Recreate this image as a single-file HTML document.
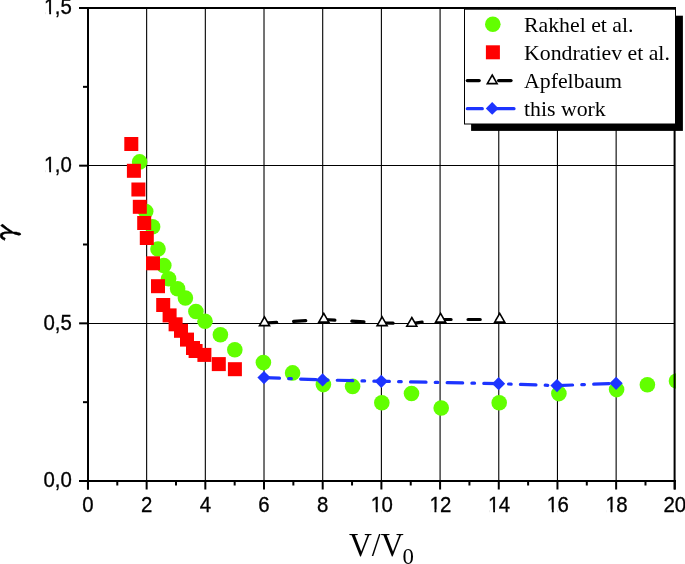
<!DOCTYPE html>
<html><head><meta charset="utf-8"><style>
html,body{margin:0;padding:0;background:#fff;}
svg{display:block;}
.tl{font-family:"Liberation Sans",Arial,sans-serif;font-size:20.4px;fill:#000;stroke:#000;stroke-width:0.3px;}
.lg{font-family:"Liberation Serif","Times New Roman",serif;font-size:21.8px;fill:#000;}
.ax{font-family:"Liberation Serif","Times New Roman",serif;fill:#000;}
</style></head><body>
<svg width="685" height="564" viewBox="0 0 685 564">
<defs><clipPath id="pc"><rect x="88" y="8" width="588" height="473"/></clipPath></defs>
<rect width="685" height="564" fill="#fff"/>
<g stroke="#000" stroke-width="1.1"><line x1="146.64" y1="8" x2="146.64" y2="481" /><line x1="205.33" y1="8" x2="205.33" y2="481" /><line x1="264.01" y1="8" x2="264.01" y2="481" /><line x1="322.70" y1="8" x2="322.70" y2="481" /><line x1="381.39" y1="8" x2="381.39" y2="481" /><line x1="440.08" y1="8" x2="440.08" y2="481" /><line x1="498.77" y1="8" x2="498.77" y2="481" /><line x1="557.45" y1="8" x2="557.45" y2="481" /><line x1="616.14" y1="8" x2="616.14" y2="481" /><line x1="88" y1="323.45" x2="675" y2="323.45" /><line x1="88" y1="165.55" x2="675" y2="165.55" /></g>
<g clip-path="url(#pc)">
<circle cx="139.6" cy="161.9" r="7.8" fill="#62FF00"/><circle cx="145.7" cy="211.5" r="7.8" fill="#62FF00"/><circle cx="152.6" cy="226.8" r="7.8" fill="#62FF00"/><circle cx="158" cy="249" r="7.8" fill="#62FF00"/><circle cx="163.8" cy="265.5" r="7.8" fill="#62FF00"/><circle cx="168.6" cy="278.8" r="7.8" fill="#62FF00"/><circle cx="177.6" cy="288.8" r="7.8" fill="#62FF00"/><circle cx="185.4" cy="298" r="7.8" fill="#62FF00"/><circle cx="195.9" cy="311.5" r="7.8" fill="#62FF00"/><circle cx="205" cy="321.2" r="7.8" fill="#62FF00"/><circle cx="220.4" cy="334.7" r="7.8" fill="#62FF00"/><circle cx="234.8" cy="349.7" r="7.8" fill="#62FF00"/><circle cx="263.4" cy="362.6" r="7.8" fill="#62FF00"/><circle cx="292.6" cy="372.9" r="7.8" fill="#62FF00"/><circle cx="323.4" cy="384.6" r="7.8" fill="#62FF00"/><circle cx="352.6" cy="386.4" r="7.8" fill="#62FF00"/><circle cx="381.8" cy="402.8" r="7.8" fill="#62FF00"/><circle cx="411.5" cy="393.5" r="7.8" fill="#62FF00"/><circle cx="441.2" cy="408" r="7.8" fill="#62FF00"/><circle cx="499.2" cy="402.8" r="7.8" fill="#62FF00"/><circle cx="558.9" cy="393.6" r="7.8" fill="#62FF00"/><circle cx="616.6" cy="389.6" r="7.8" fill="#62FF00"/><circle cx="647.4" cy="384.8" r="7.8" fill="#62FF00"/><circle cx="676.5" cy="381" r="7.8" fill="#62FF00"/>
<rect x="124.3" y="137.0" width="14" height="14" fill="#FF0000"/><rect x="126.9" y="163.8" width="14" height="14" fill="#FF0000"/><rect x="131.4" y="182.5" width="14" height="14" fill="#FF0000"/><rect x="132.8" y="199.8" width="14" height="14" fill="#FF0000"/><rect x="137.2" y="216.0" width="14" height="14" fill="#FF0000"/><rect x="139.8" y="231.0" width="14" height="14" fill="#FF0000"/><rect x="146.0" y="256.3" width="14" height="14" fill="#FF0000"/><rect x="151.0" y="279.2" width="14" height="14" fill="#FF0000"/><rect x="156.2" y="298.0" width="14" height="14" fill="#FF0000"/><rect x="162.6" y="308.4" width="14" height="14" fill="#FF0000"/><rect x="168.6" y="317.3" width="14" height="14" fill="#FF0000"/><rect x="174.0" y="323.8" width="14" height="14" fill="#FF0000"/><rect x="180.0" y="332.6" width="14" height="14" fill="#FF0000"/><rect x="186.0" y="341.0" width="14" height="14" fill="#FF0000"/><rect x="188.6" y="344.0" width="14" height="14" fill="#FF0000"/><rect x="197.4" y="347.9" width="14" height="14" fill="#FF0000"/><rect x="211.8" y="357.1" width="14" height="14" fill="#FF0000"/><rect x="227.9" y="362.2" width="14" height="14" fill="#FF0000"/>
<polyline points="264.5,323.0 323.8,319.5 382.1,323.0 411.8,323.6 440.6,319.5 499.7,319.5" fill="none" stroke="#000" stroke-width="3.2" stroke-dasharray="12.2 16.95" stroke-linecap="round"/>
<polygon points="264.50,316.90 269.50,325.60 259.50,325.60" fill="#fff" stroke="#000" stroke-width="1.6" stroke-linejoin="miter"/><polygon points="323.80,313.40 328.80,322.10 318.80,322.10" fill="#fff" stroke="#000" stroke-width="1.6" stroke-linejoin="miter"/><polygon points="382.10,316.90 387.10,325.60 377.10,325.60" fill="#fff" stroke="#000" stroke-width="1.6" stroke-linejoin="miter"/><polygon points="411.80,317.50 416.80,326.20 406.80,326.20" fill="#fff" stroke="#000" stroke-width="1.6" stroke-linejoin="miter"/><polygon points="440.60,313.40 445.60,322.10 435.60,322.10" fill="#fff" stroke="#000" stroke-width="1.6" stroke-linejoin="miter"/><polygon points="499.70,313.40 504.70,322.10 494.70,322.10" fill="#fff" stroke="#000" stroke-width="1.6" stroke-linejoin="miter"/>
<polyline points="264,377.6 322.6,379.9 381.3,381.3 498.6,383.7 557,385.6 616.1,383.3" fill="none" stroke="#1D34FF" stroke-width="3.2" stroke-dasharray="15.5 9.25 2.6 9.3" stroke-linecap="round"/>
<polygon points="264,371.0 270.6,377.6 264,384.20000000000005 257.4,377.6" fill="#1D34FF"/><polygon points="322.6,373.29999999999995 329.20000000000005,379.9 322.6,386.5 316.0,379.9" fill="#1D34FF"/><polygon points="381.3,374.7 387.90000000000003,381.3 381.3,387.90000000000003 374.7,381.3" fill="#1D34FF"/><polygon points="498.6,377.09999999999997 505.20000000000005,383.7 498.6,390.3 492.0,383.7" fill="#1D34FF"/><polygon points="557,379.0 563.6,385.6 557,392.20000000000005 550.4,385.6" fill="#1D34FF"/><polygon points="616.1,376.7 622.7,383.3 616.1,389.90000000000003 609.5,383.3" fill="#1D34FF"/>
</g>
<g stroke="#000" stroke-width="2" fill="none"><line x1="88" y1="7" x2="88" y2="489.5"/><line x1="79.1" y1="481" x2="676" y2="481"/><line x1="79.1" y1="8" x2="676" y2="8"/><line x1="674.6" y1="7" x2="674.6" y2="489.5"/><line x1="87.95" y1="481" x2="87.95" y2="489.5"/><line x1="117.29" y1="481" x2="117.29" y2="485.5"/><line x1="146.64" y1="481" x2="146.64" y2="489.5"/><line x1="175.98" y1="481" x2="175.98" y2="485.5"/><line x1="205.33" y1="481" x2="205.33" y2="489.5"/><line x1="234.67" y1="481" x2="234.67" y2="485.5"/><line x1="264.01" y1="481" x2="264.01" y2="489.5"/><line x1="293.36" y1="481" x2="293.36" y2="485.5"/><line x1="322.70" y1="481" x2="322.70" y2="489.5"/><line x1="352.05" y1="481" x2="352.05" y2="485.5"/><line x1="381.39" y1="481" x2="381.39" y2="489.5"/><line x1="410.73" y1="481" x2="410.73" y2="485.5"/><line x1="440.08" y1="481" x2="440.08" y2="489.5"/><line x1="469.42" y1="481" x2="469.42" y2="485.5"/><line x1="498.77" y1="481" x2="498.77" y2="489.5"/><line x1="528.11" y1="481" x2="528.11" y2="485.5"/><line x1="557.45" y1="481" x2="557.45" y2="489.5"/><line x1="586.80" y1="481" x2="586.80" y2="485.5"/><line x1="616.14" y1="481" x2="616.14" y2="489.5"/><line x1="645.49" y1="481" x2="645.49" y2="485.5"/><line x1="674.83" y1="481" x2="674.83" y2="489.5"/><line x1="79.1" y1="481.00" x2="88" y2="481.00"/><line x1="83" y1="402.17" x2="88" y2="402.17"/><line x1="79.1" y1="323.34" x2="88" y2="323.34"/><line x1="83" y1="244.50" x2="88" y2="244.50"/><line x1="79.1" y1="165.67" x2="88" y2="165.67"/><line x1="83" y1="86.84" x2="88" y2="86.84"/><line x1="79.1" y1="8.00" x2="88" y2="8.00"/></g>
<text class="tl" transform="translate(87.95,512.20) scale(1,1.065)" ><tspan x="-5.67">0</tspan></text><text class="tl" transform="translate(146.64,512.20) scale(1,1.065)" ><tspan x="-5.67">2</tspan></text><text class="tl" transform="translate(205.33,512.20) scale(1,1.065)" ><tspan x="-5.67">4</tspan></text><text class="tl" transform="translate(264.01,512.20) scale(1,1.065)" ><tspan x="-5.67">6</tspan></text><text class="tl" transform="translate(322.70,512.20) scale(1,1.065)" ><tspan x="-5.67">8</tspan></text><text class="tl" transform="translate(381.39,512.20) scale(1,1.065)"  clip-path="url(#c0)"><tspan x="-10.67">1</tspan><tspan x="0.00">0</tspan></text><text class="tl" transform="translate(440.08,512.20) scale(1,1.065)"  clip-path="url(#c1)"><tspan x="-10.67">1</tspan><tspan x="0.00">2</tspan></text><text class="tl" transform="translate(498.77,512.20) scale(1,1.065)"  clip-path="url(#c2)"><tspan x="-10.67">1</tspan><tspan x="0.00">4</tspan></text><text class="tl" transform="translate(557.45,512.20) scale(1,1.065)"  clip-path="url(#c3)"><tspan x="-10.67">1</tspan><tspan x="0.00">6</tspan></text><text class="tl" transform="translate(616.14,512.20) scale(1,1.065)"  clip-path="url(#c4)"><tspan x="-10.67">1</tspan><tspan x="0.00">8</tspan></text><text class="tl" transform="translate(674.83,512.20) scale(1,1.065)" ><tspan x="-11.35">2</tspan><tspan x="0.00">0</tspan></text><text class="tl" transform="translate(71.80,487.30) scale(1,1.065)" ><tspan x="-28.36">0</tspan><tspan x="-17.01">,</tspan><tspan x="-11.35">0</tspan></text><text class="tl" transform="translate(71.80,329.64) scale(1,1.065)" ><tspan x="-28.36">0</tspan><tspan x="-17.01">,</tspan><tspan x="-11.35">5</tspan></text><text class="tl" transform="translate(71.80,171.97) scale(1,1.065)"  clip-path="url(#c5)"><tspan x="-27.68">1</tspan><tspan x="-17.01">,</tspan><tspan x="-11.35">0</tspan></text><text class="tl" transform="translate(71.80,14.30) scale(1,1.065)"  clip-path="url(#c6)"><tspan x="-27.68">1</tspan><tspan x="-17.01">,</tspan><tspan x="-11.35">5</tspan></text><defs><clipPath id="c0"><path d="M-16.35,-25H16.35V8H-16.35ZM-9.67,-2.42H-5.54V3H-9.67ZM-3.74,-2.42H0.24V3H-3.74Z" clip-rule="evenodd"/></clipPath><clipPath id="c1"><path d="M-16.35,-25H16.35V8H-16.35ZM-9.67,-2.42H-5.54V3H-9.67ZM-3.74,-2.42H0.24V3H-3.74Z" clip-rule="evenodd"/></clipPath><clipPath id="c2"><path d="M-16.35,-25H16.35V8H-16.35ZM-9.67,-2.42H-5.54V3H-9.67ZM-3.74,-2.42H0.24V3H-3.74Z" clip-rule="evenodd"/></clipPath><clipPath id="c3"><path d="M-16.35,-25H16.35V8H-16.35ZM-9.67,-2.42H-5.54V3H-9.67ZM-3.74,-2.42H0.24V3H-3.74Z" clip-rule="evenodd"/></clipPath><clipPath id="c4"><path d="M-16.35,-25H16.35V8H-16.35ZM-9.67,-2.42H-5.54V3H-9.67ZM-3.74,-2.42H0.24V3H-3.74Z" clip-rule="evenodd"/></clipPath><clipPath id="c5"><path d="M-33.36,-25H5.00V8H-33.36ZM-26.69,-2.42H-22.55V3H-26.69ZM-20.75,-2.42H-16.77V3H-20.75Z" clip-rule="evenodd"/></clipPath><clipPath id="c6"><path d="M-33.36,-25H5.00V8H-33.36ZM-26.69,-2.42H-22.55V3H-26.69ZM-20.75,-2.42H-16.77V3H-20.75Z" clip-rule="evenodd"/></clipPath></defs>
<text class="ax" x="349" y="556" font-size="33" textLength="54.5" lengthAdjust="spacingAndGlyphs">V/V</text><text class="ax" x="402.6" y="563.6" font-size="22.8">0</text><text font-family="IPAGothic,DejaVu Serif,serif" font-size="30" stroke="#000" stroke-width="0.35" transform="translate(18.2,232.3) rotate(-90) scale(0.92,1.12)" text-anchor="middle">γ</text>
<rect x="471.1" y="15.7" width="211.8" height="115.2" fill="#000"/><rect x="464.5" y="9.2" width="211" height="114.8" fill="#fff" stroke="#000" stroke-width="1"/><line x1="464" y1="8" x2="676" y2="8" stroke="#000" stroke-width="2"/><circle cx="492.8" cy="24.2" r="7.8" fill="#62FF00"/><rect x="485.9" y="45.3" width="14" height="14" fill="#FF0000"/><line x1="467.3" y1="80.6" x2="479.2" y2="80.6" stroke="#000" stroke-width="3.3" stroke-linecap="round"/><line x1="498.6" y1="80.6" x2="511" y2="80.6" stroke="#000" stroke-width="3.3" stroke-linecap="round"/><polygon points="492.2,75.0 497.1,83.6 487.3,83.6" fill="#fff" stroke="#000" stroke-width="1.6"/><line x1="467.3" y1="108.7" x2="482.3" y2="108.7" stroke="#1D34FF" stroke-width="3.2" stroke-linecap="round"/><line x1="493" y1="108.7" x2="514" y2="108.7" stroke="#1D34FF" stroke-width="3.2" stroke-linecap="round"/><polygon points="492.2,102 498.6,108.4 492.2,114.8 485.8,108.4" fill="#1D34FF"/><text class="lg" x="524" y="32.3">Rakhel et al.</text><text class="lg" x="524" y="60">Kondratiev et al.</text><text class="lg" x="524" y="88.1">Apfelbaum</text><text class="lg" x="524" y="115.7">this work</text>
</svg>
</body></html>
